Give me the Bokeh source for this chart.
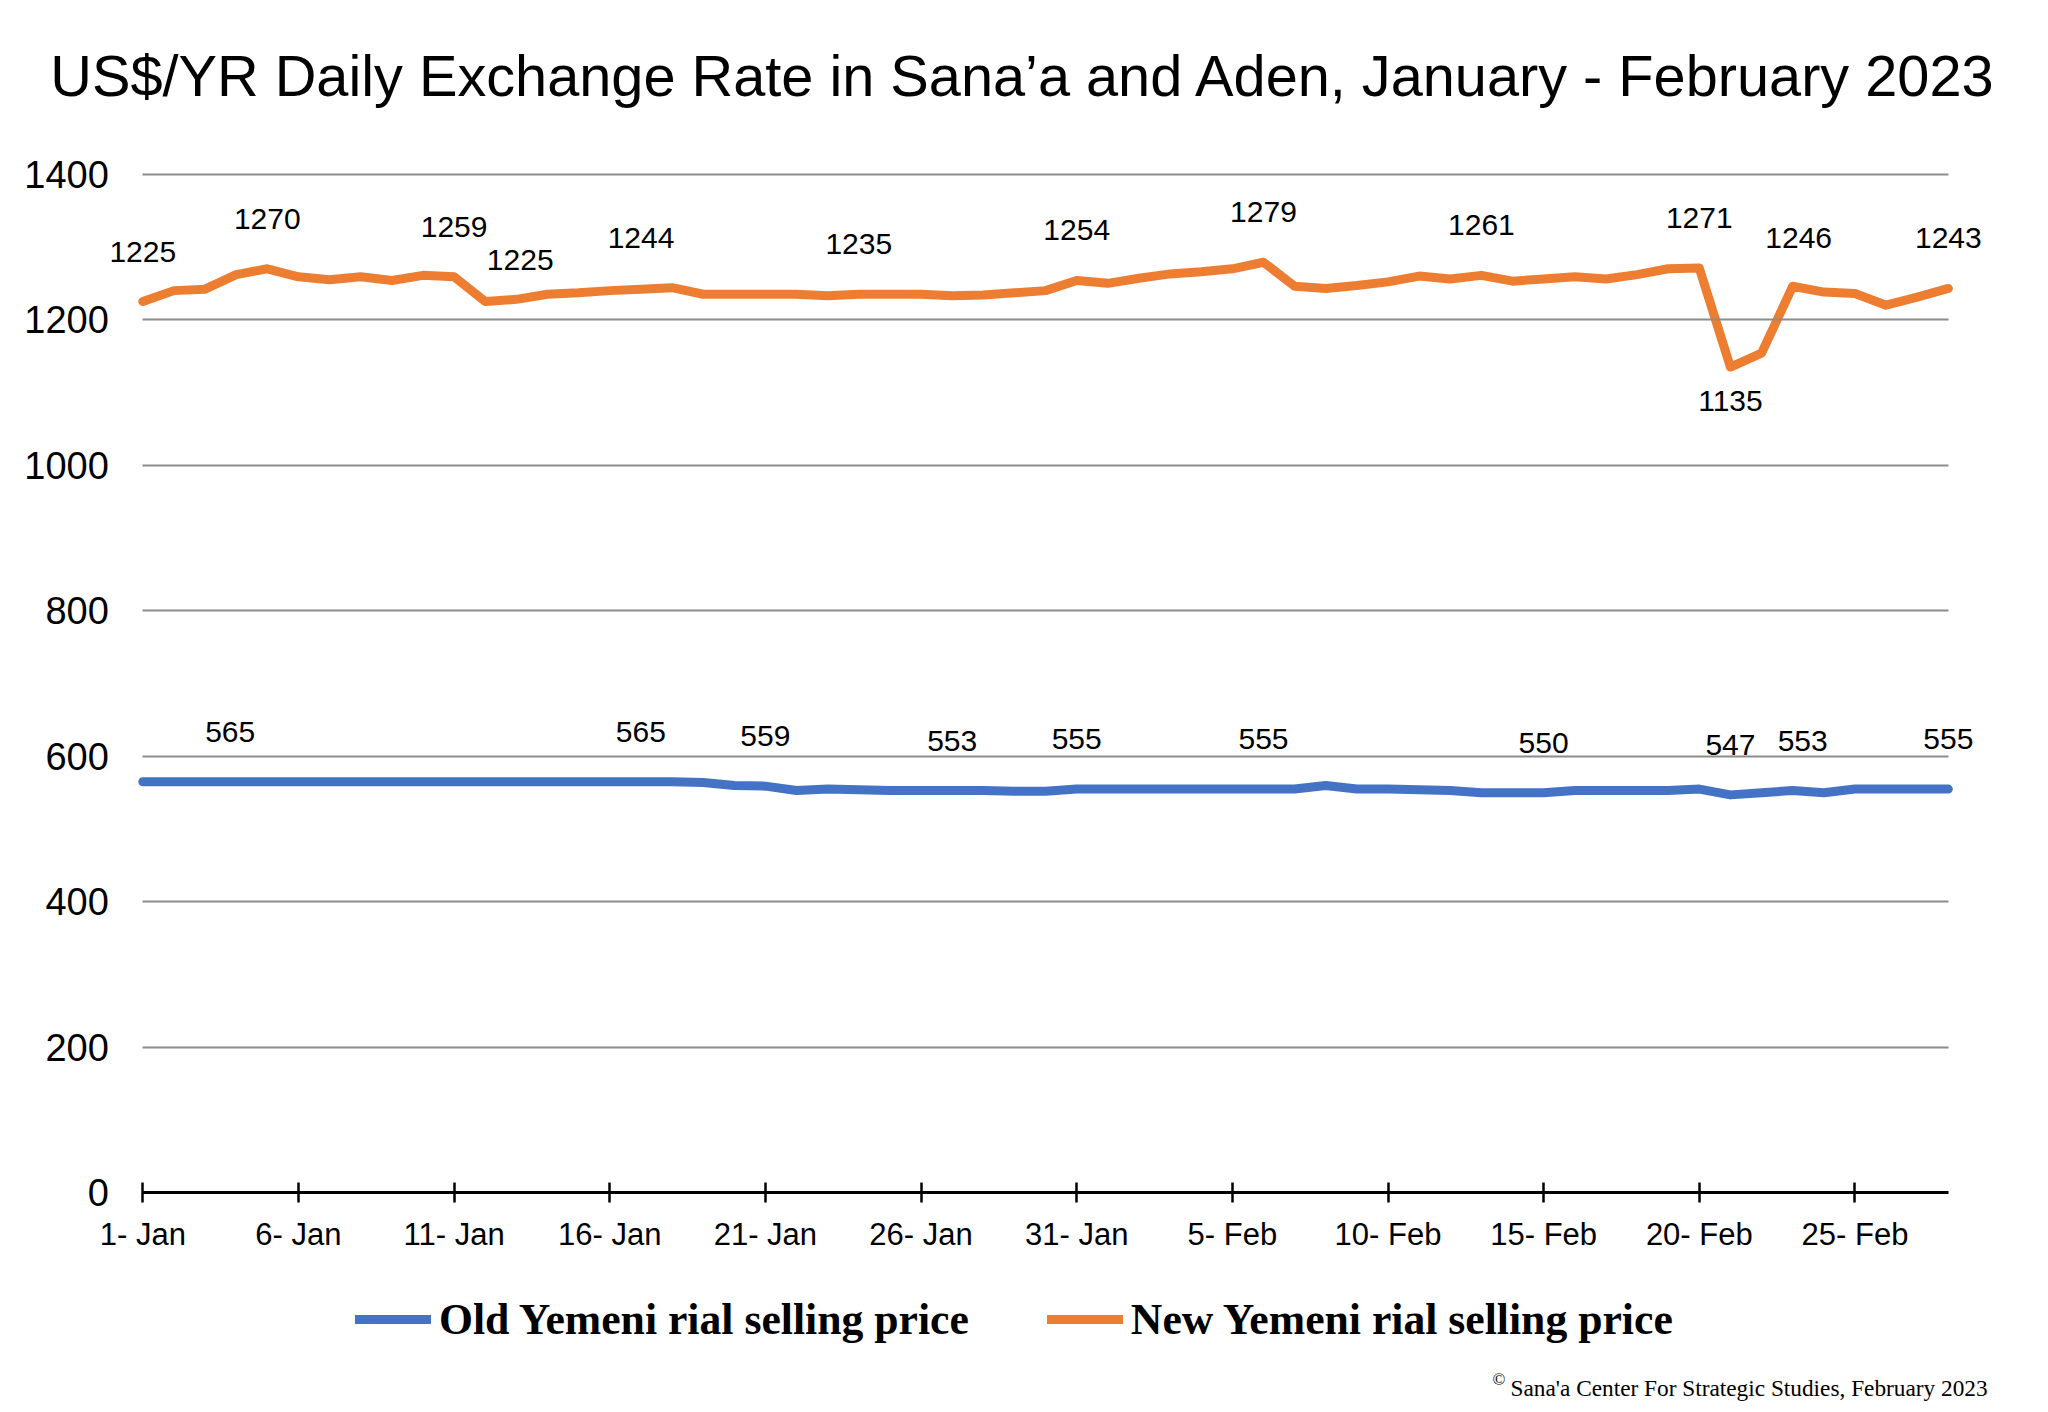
from bokeh.plotting import figure
from bokeh.models import (Range1d, FixedTicker, ColumnDataSource, LabelSet, Legend,
                          LegendItem, Label, LinearAxis)
from bokeh.core.properties import value
from bokeh.embed import file_html
from bokeh.resources import INLINE

# ---------------- data ----------------
day_labels = [f"{d}- Jan" for d in range(1, 32)] + [f"{d}- Feb" for d in range(1, 29)]

new_rate = [1225, 1240, 1242, 1262, 1270, 1259, 1255, 1259, 1254, 1261,
            1259, 1225, 1228, 1235, 1237, 1240, 1242, 1244, 1235, 1235,
            1235, 1235, 1233, 1235, 1235, 1235, 1233, 1234, 1237, 1240,
            1254, 1250, 1257, 1263, 1266, 1270, 1279, 1246, 1243, 1247,
            1252, 1260, 1256, 1261, 1253, 1256, 1259, 1256, 1262, 1270,
            1271, 1135, 1154, 1246, 1238, 1236, 1220, 1231, 1243]

old_rate = [565, 565, 565, 565, 565, 565, 565, 565, 565, 565,
            565, 565, 565, 565, 565, 565, 565, 565, 564, 560,
            559, 553, 555, 554, 553, 553, 553, 553, 552, 552,
            555, 555, 555, 555, 555, 555, 555, 555, 560, 555,
            555, 554, 553, 550, 550, 550, 553, 553, 553, 553,
            555, 547, 550, 553, 550, 555, 555, 555, 555]

new_labelled = [0, 4, 10, 11, 17, 23, 30, 36, 43, 50, 51, 53, 58]
old_labelled = [3, 16, 20, 26, 30, 36, 45, 51, 53, 58]

x_ticks = [0, 5, 10, 15, 20, 25, 30, 35, 40, 45, 50, 55]
y_ticks = [0, 200, 400, 600, 800, 1000, 1200, 1400]
grid_ticks = [200, 400, 600, 800, 1000, 1200, 1400]

title_text = "US$/YR Daily Exchange Rate in Sana\u2019a and Aden, January - February 2023"
legend_labels = ["Old Yemeni rial selling price", "New Yemeni rial selling price"]
credit_text = "Sana'a Center For Strategic Studies, February 2023"

# ---------------- styles / layout ----------------
ORANGE = "#ED7D31"
BLUE = "#4472C4"
GRID = "#8c8c8c"
SANS = "Liberation Sans"
SERIF = "Liberation Serif"

W, H = 2048, 1412
LEFT_PX = 142.3        # pixel of first day
PX_PER_DAY = 31.13
ZERO_PX = 1192.4       # pixel (from top) of value 0
PX_PER_UNIT = 0.72764

# per-label nudges in screen pixels (dx, dy); default (0, 50) = above the point
new_nudge = {11: (35, 42), 17: (-31, 50), 51: (0, -34), 53: (6, 48)}
old_nudge = {3: (-6, 50), 53: (10, 50)}

days = list(range(len(new_rate)))
last_day = days[-1]

x_range = Range1d(-LEFT_PX / PX_PER_DAY, (W - LEFT_PX) / PX_PER_DAY)
y_range = Range1d(-(H - ZERO_PX) / PX_PER_UNIT, ZERO_PX / PX_PER_UNIT)

p = figure(width=W, height=H, output_backend="svg", toolbar_location=None,
           title=None, x_range=x_range, y_range=y_range,
           x_axis_location=None, y_axis_location=None,
           min_border=0, min_border_left=0, min_border_right=0,
           min_border_top=0, min_border_bottom=0)
p.outline_line_color = None
p.background_fill_color = "white"
p.border_fill_color = "white"
p.xgrid.visible = False
p.ygrid.visible = False

# horizontal grid lines: inward ticks of an unlabelled axis at x = 0
grid_axis = LinearAxis(ticker=FixedTicker(ticks=grid_ticks), fixed_location=0)
grid_axis.axis_line_color = None
grid_axis.major_tick_line_color = GRID
grid_axis.major_tick_line_width = 2
grid_axis.major_tick_in = int(round(last_day * PX_PER_DAY))
grid_axis.major_tick_out = 0
grid_axis.minor_tick_line_color = None
grid_axis.major_label_text_color = None
grid_axis.major_label_text_font_size = "1px"
p.add_layout(grid_axis, "left")

# y axis (labels only)
ya = LinearAxis(ticker=FixedTicker(ticks=y_ticks), fixed_location=0)
ya.axis_line_color = None
ya.major_tick_line_color = None
ya.minor_tick_line_color = None
ya.major_tick_in = 0
ya.major_tick_out = 0
ya.major_label_text_font = SANS
ya.major_label_text_font_size = "38px"
ya.major_label_text_color = "black"
ya.major_label_standoff = 34
p.add_layout(ya, "left")

# x axis
xa = LinearAxis(ticker=FixedTicker(ticks=x_ticks), fixed_location=0,
                bounds=(0, last_day))
xa.major_label_overrides = {i: day_labels[i] for i in x_ticks}
xa.axis_line_color = "black"
xa.axis_line_width = 3
xa.major_tick_line_color = "black"
xa.major_tick_line_width = 2.5
xa.major_tick_in = 10
xa.major_tick_out = 10
xa.minor_tick_line_color = None
xa.major_label_text_font = SANS
xa.major_label_text_font_size = "31px"
xa.major_label_text_color = "black"
xa.major_label_standoff = 14
p.add_layout(xa, "below")

# lines
r_old = p.line(days, old_rate, line_color=BLUE, line_width=9,
               line_join="round", line_cap="round")
r_new = p.line(days, new_rate, line_color=ORANGE, line_width=9,
               line_join="round", line_cap="round")

def label_source(series, idxs, nudge):
    return ColumnDataSource(dict(
        x=idxs,
        y=[series[i] for i in idxs],
        t=[str(series[i]) for i in idxs],
        dx=[nudge.get(i, (0, 50))[0] for i in idxs],
        dy=[nudge.get(i, (0, 50))[1] for i in idxs],
    ))

for series, idxs, nudge in ((new_rate, new_labelled, new_nudge),
                            (old_rate, old_labelled, old_nudge)):
    src = label_source(series, idxs, nudge)
    ls = LabelSet(x="x", y="y", text="t", source=src, x_offset="dx", y_offset="dy",
                  text_font=value(SANS), text_font_size=value("30px"),
                  text_color="black", text_align="center", text_baseline="middle")
    p.add_layout(ls)

# title
p.add_layout(Label(x=1023, y=H - 75, x_units="screen", y_units="screen",
                   text=title_text, text_font=SANS, text_font_size="57.7px",
                   text_color="black", text_align="center",
                   text_baseline="alphabetic"))

# legend
legend = Legend(items=[LegendItem(label=legend_labels[0], renderers=[r_old]),
                       LegendItem(label=legend_labels[1], renderers=[r_new])],
                orientation="horizontal", location=(355, 65))
legend.label_text_font = SERIF
legend.label_text_font_style = "bold"
legend.label_text_font_size = "43.7px"
legend.label_text_color = "black"
legend.glyph_width = 76
legend.glyph_height = 56
legend.label_height = 56
legend.label_standoff = 8
legend.spacing = 78
legend.padding = 0
legend.margin = 0
legend.border_line_color = None
legend.background_fill_alpha = 0
p.add_layout(legend)

# credit line
p.add_layout(Label(x=1492, y=33, x_units="screen", y_units="screen", text="\u00a9",
                   text_font=SERIF, text_font_size="17px", text_color="black",
                   text_baseline="middle"))
p.add_layout(Label(x=1510, y=25, x_units="screen", y_units="screen",
                   text=credit_text, text_font=SERIF, text_font_size="23.3px",
                   text_color="black", text_baseline="middle"))

open("out.html", "w").write(file_html(p, INLINE))
